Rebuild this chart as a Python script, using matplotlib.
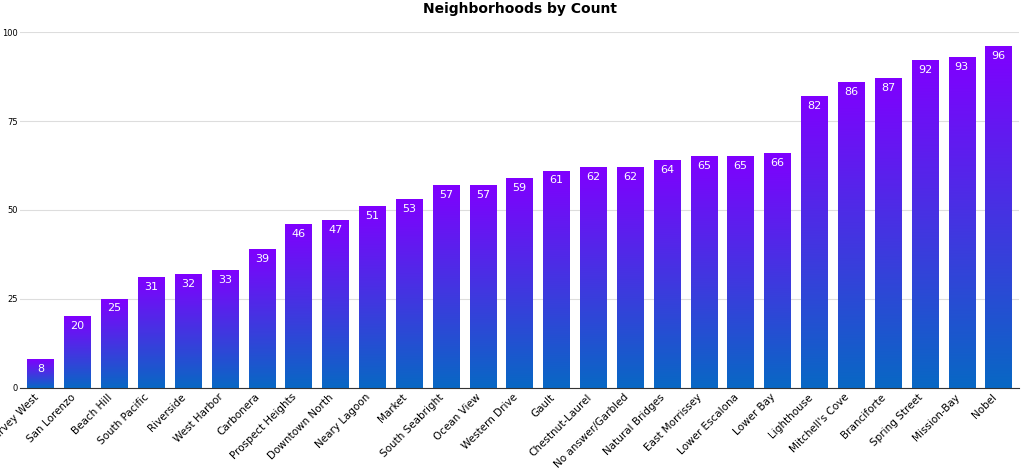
import matplotlib.pyplot as plt
import numpy as np
from matplotlib.colors import LinearSegmentedColormap

neighborhoods = ["Harvey West", "San Lorenzo", "Beach Hill", "South Pacific", "Riverside",
                 "West Harbor", "Carbonera", "Prospect Heights", "Downtown North", "Neary Lagoon",
                 "Market", "South Seabright", "Ocean View", "Western Drive", "Gault",
                 "Chestnut-Laurel", "No answer/Garbled", "Natural Bridges", "East Morrissey",
                 "Lower Escalona", "Lower Bay", "Lighthouse", "Mitchell's Cove", "Branciforte",
                 "Spring Street", "Mission-Bay", "Nobel"]
counts = [8, 20, 25, 31, 32, 33, 39, 46, 47, 51, 53, 57, 57, 59, 61, 62, 62, 64, 65, 65, 66,
          82, 86, 87, 92, 93, 96]

cmap = LinearSegmentedColormap.from_list("grad", ["#0868c4", "#8000ff"])
grad = np.linspace(0, 1, 256).reshape(-1, 1)

fig = plt.figure(figsize=(10.24, 4.74), dpi=100)
ax = fig.add_axes([0.02, 0.182, 0.975, 0.75])
x = np.arange(len(counts))
w = 0.72
for xi, v in zip(x, counts):
    ax.imshow(grad, cmap=cmap, aspect="auto", origin="lower",
              extent=(xi - w / 2, xi + w / 2, 0, v), zorder=2)
    ax.text(xi, v - 1.3, str(v), ha="center", va="top", color="white", fontsize=8, zorder=3)

ax.set_xlim(-0.55, len(counts) - 0.45)
ax.set_ylim(0, 100)
ax.set_yticks([0, 25, 50, 75, 100])
ax.tick_params(axis="y", labelsize=6, length=0, pad=2)
ax.set_xticks(x)
ax.set_xticklabels(neighborhoods, rotation=45, ha="right", fontsize=7.5)
ax.tick_params(axis="x", length=0, pad=3)
ax.grid(axis="y", color="#dddddd", linewidth=0.8, zorder=0)
for s in ["top", "right", "left"]:
    ax.spines[s].set_visible(False)
ax.spines["bottom"].set_color("#333333")
ax.set_title("Neighborhoods by Count", fontsize=10, fontweight="bold", pad=14)

fig.savefig("out.png")
